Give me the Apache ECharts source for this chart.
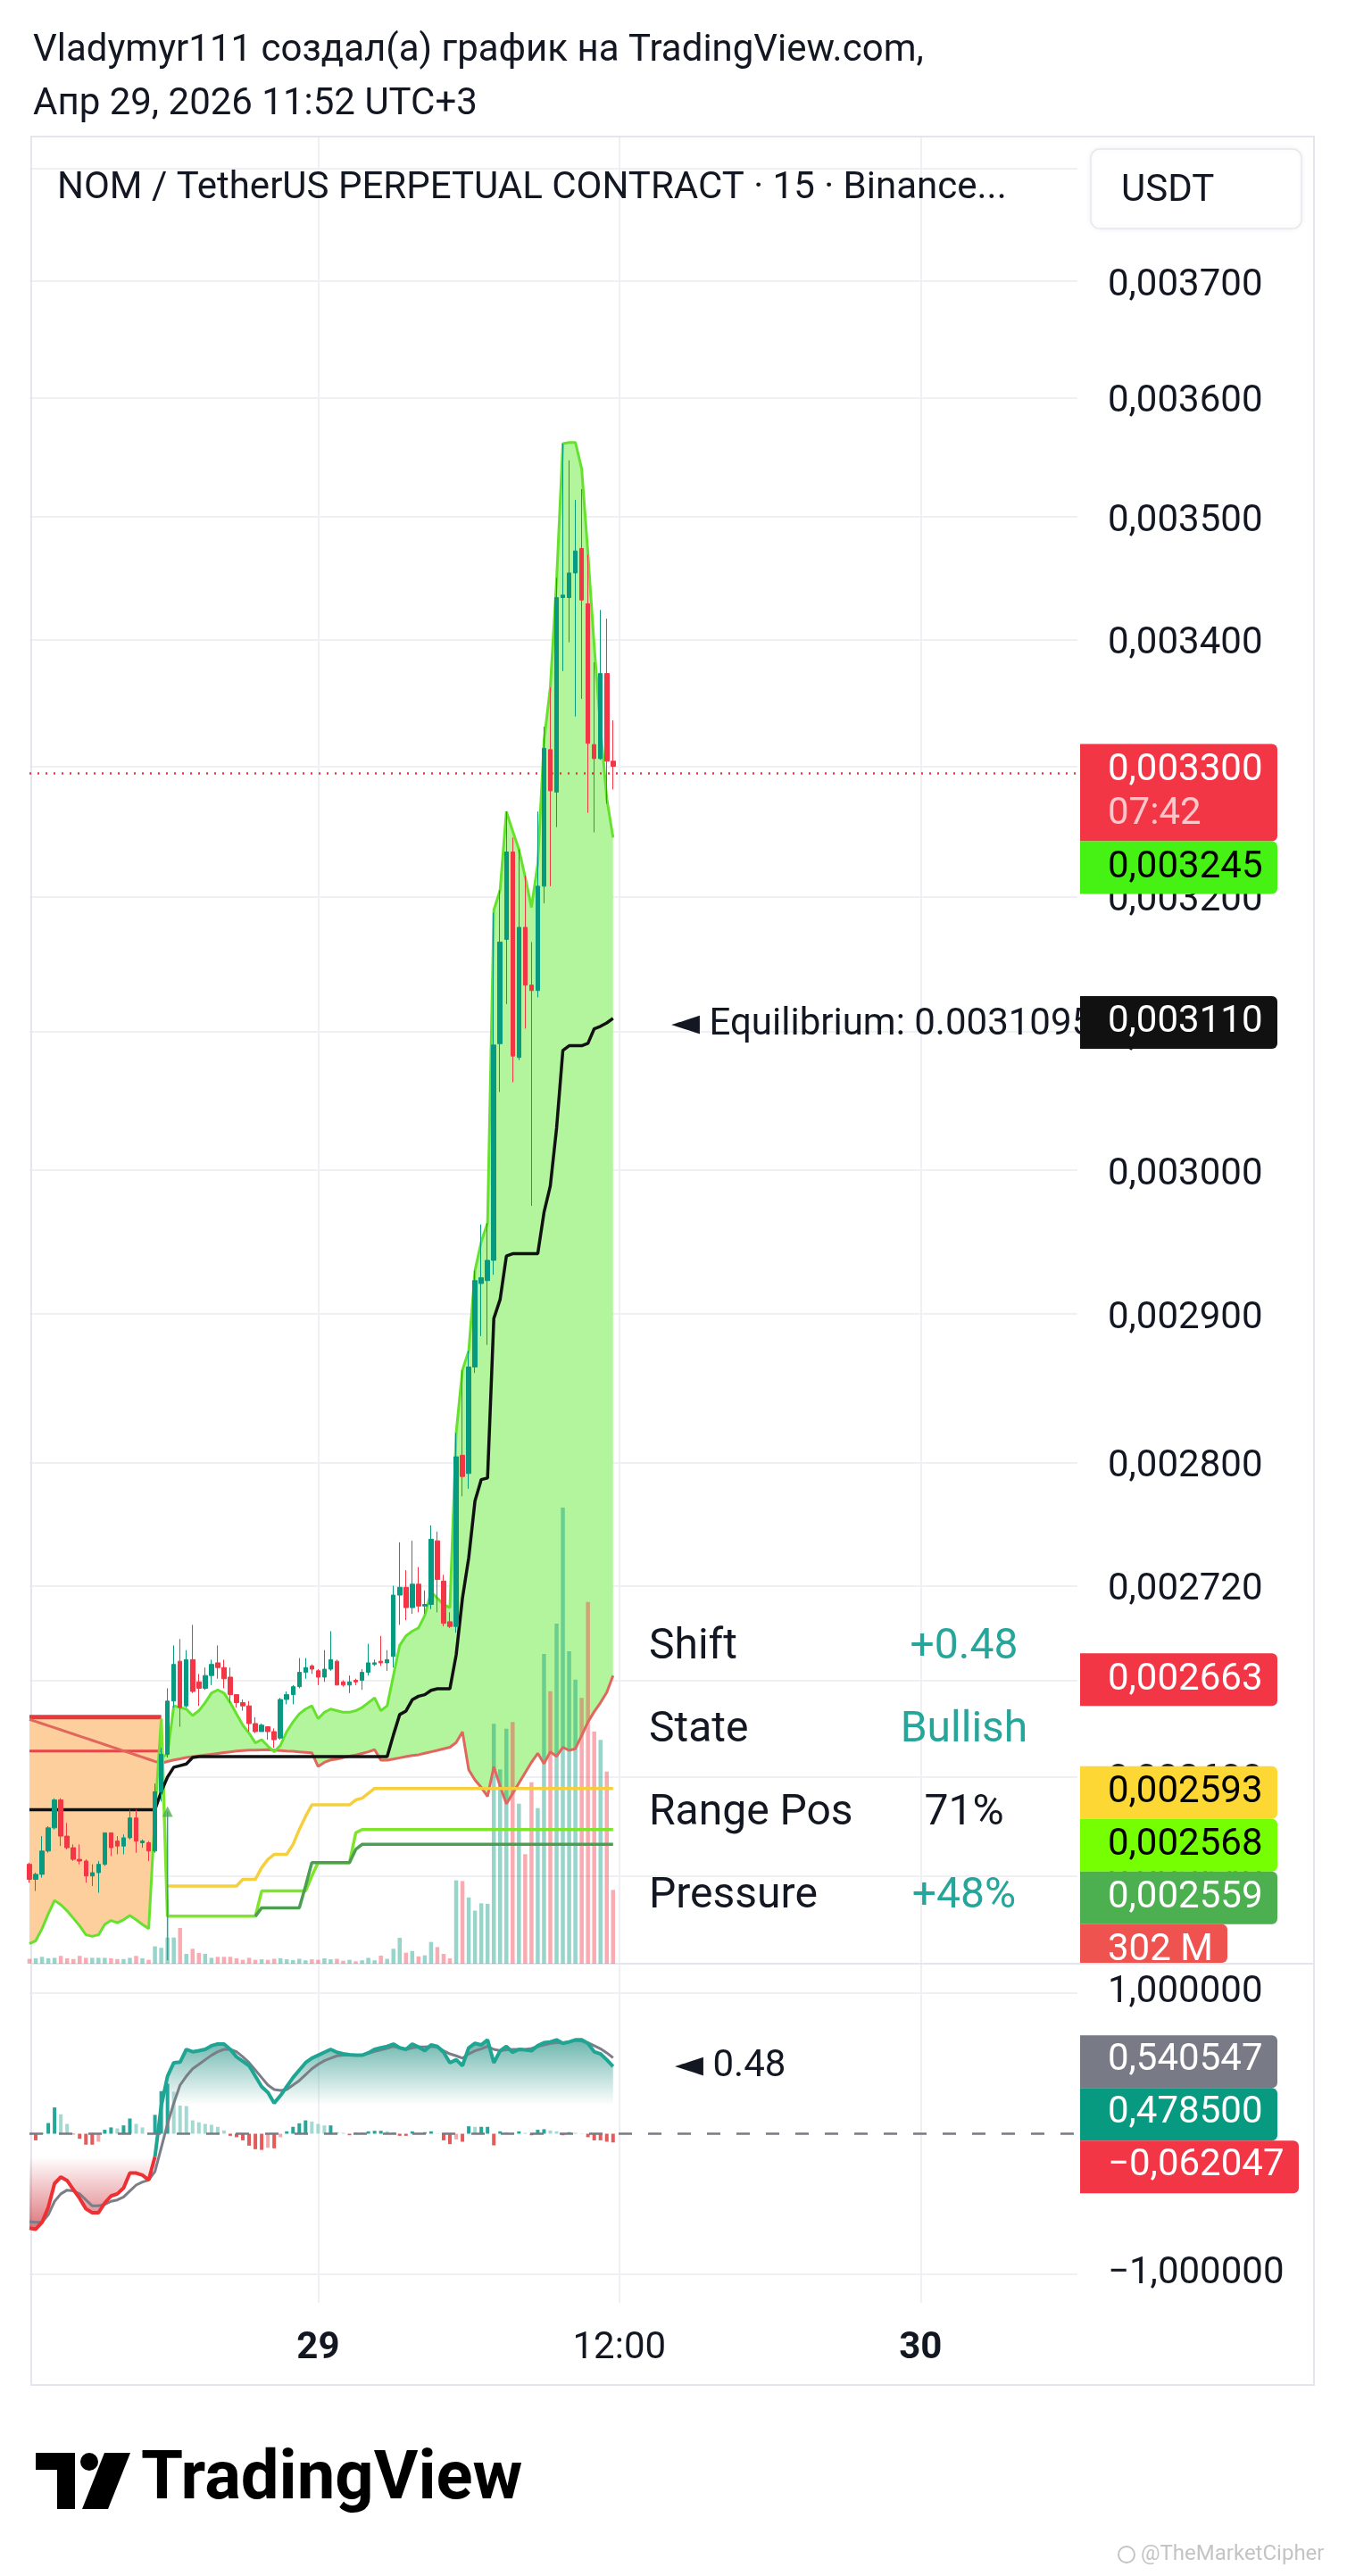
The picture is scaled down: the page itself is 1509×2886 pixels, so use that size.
<!DOCTYPE html>
<html>
<head>
<meta charset="utf-8">
<title>NOM / TetherUS PERPETUAL CONTRACT</title>
<script src="https://cdn.jsdelivr.net/npm/echarts@6.0.0/dist/echarts.min.js"></script>
<style>
html,body{margin:0;padding:0;background:#ffffff;}
#chart{width:1509px;height:2886px;}
</style>
</head>
<body>
<div id="chart"></div>
<script>
// ================= DATA (prices in 1e-6 USDT) =================
// 15-minute bars, index 0 = 28 Apr 12:30 (UTC+3)
const candles = [ // [open, close, low, high]
[2547,2538,2536,2548],[2538,2541,2531,2542],[2541,2555,2539,2564],[2555,2569,2554,2570],[2569,2586,2568,2587],
[2586,2564,2558,2587],[2564,2557,2556,2572],[2557,2550,2549,2559],[2550,2549,2547,2559],[2549,2540,2536,2550],
[2540,2542,2534,2547],[2542,2547,2530,2549],[2547,2566,2546,2566],[2566,2557,2552,2566],[2561,2558,2553,2564],
[2558,2563,2553,2565],[2563,2575,2562,2580],[2575,2561,2554,2580],[2560,2561,2557,2562],[2560,2555,2549,2561],
[2555,2591,2554,2596],[2591,2614,2585,2618],[2614,2647,2612,2655],[2647,2670,2643,2682],[2672,2643,2631,2686],
[2644,2673,2643,2679],[2673,2653,2652,2695],[2659,2655,2644,2664],[2655,2663,2654,2668],[2663,2670,2657,2673],
[2671,2668,2661,2682],[2668,2661,2655,2673],[2662,2651,2646,2668],[2651,2646,2643,2651],[2646,2644,2641,2648],
[2644,2633,2628,2647],[2633,2628,2627,2637],[2628,2632,2628,2633],[2631,2628,2623,2631],[2628,2623,2618,2630],
[2624,2648,2623,2649],[2648,2651,2645,2653],[2651,2656,2645,2657],[2656,2665,2655,2674],[2665,2668,2661,2674],
[2669,2667,2664,2670],[2666,2662,2657,2667],[2662,2667,2659,2679],[2667,2673,2666,2691],[2672,2657,2657,2673],
[2659,2657,2656,2660],[2657,2659,2652,2663],[2660,2659,2657,2661],[2660,2665,2654,2667],[2665,2671,2663,2683],
[2670,2671,2669,2673],[2672,2671,2669,2688],[2671,2673,2666,2679],[2675,2714,2668,2720],[2714,2719,2695,2748],
[2719,2706,2698,2730],[2706,2721,2702,2749],[2721,2707,2703,2732],[2707,2708,2702,2717],[2708,2750,2705,2759],
[2749,2724,2703,2755],[2723,2696,2694,2727],[2697,2694,2693,2703],[2694,2804,2690,2820],[2805,2791,2778,2862],
[2793,2864,2783,2875],[2864,2923,2860,2930],[2921,2925,2885,2962],[2923,2937,2879,2963],[2937,3090,2927,3188],
[3091,3166,3056,3205],[3168,3234,3120,3265],[3234,3082,3063,3245],[3081,3177,3079,3236],[3177,3134,3102,3216],
[3134,3130,2975,3166],[3130,3208,3125,3265],[3208,3314,3195,3331],[3313,3281,3208,3362],[3280,3434,3253,3450],
[3434,3436,3375,3561],[3434,3454,3398,3547],[3454,3472,3339,3514],[3474,3432,3353,3523],[3429,3318,3264,3469],
[3317,3306,3249,3382],[3306,3373,3305,3424],[3373,3304,3271,3417],[3304,3300,3282,3336]
];
const volumeM = [20,22,28,22,24,32,22,19,32,24,24,24,24,22,19,19,24,32,22,16,71,65,107,107,146,40,61,44,40,24,28,28,28,22,16,24,16,
18,16,20,22,18,15,20,14,18,16,22,18,20,12,16,10,14,24,14,33,20,61,106,45,52,30,34,
89,68,40,22,341,338,271,217,247,245,981,795,961,989,655,448,742,636,1267,1115,1391,1866,1278,1162,1087,1480,949,916,786,302];

// range / trail lines of the overlay indicator
const bearRangeHigh = 2637, bearRangeMid = 2616, bearRangeEnd = 21;
const limeBear = [2499.7,2501.5,2508.6,2517.4,2525.4,2522.8,2519.2,2514.8,2510.3,2505,2504.1,2505,2511.2,2513.5,2512.1,2513.9,2516.5,2513.9,2511.2,2508.6,2577,2636];
const limeBullStart = 21;
const limeBull = [2612,2614,2644,2643,2642,2638,2641,2646,2652,2654,2652,2646,2639,2632,2627,2621,2623,2619,2615.5,2619.5,2628,2634,2639,2642,2644,2636,2640,2642,2641,2640,2640,2641,2643,2646,2649,2641,2644,2663,2682,2688,2691,2693,2701,2716,2712,2708,2706,2820,2862,2875,2930,2950,2963,3190,3205,3265,3250,3236,3215,3192,3225,3320,3362,3448,3561,3562,3562,3540,3470,3395,3330,3275,3245];
const salmonLine = [2635.6,2634.3,2633,2631.7,2630.4,2629.1,2627.8,2626.5,2625.2,2623.9,2622.6,2621.3,2620,2618.7,2617.4,2616.1,2614.8,2613.5,2612.2,2610.9,2609.6,
2608.5,2609.5,2610.5,2611.2,2612,2612.5,2613,2613.5,2614,2614.5,2615,2615.5,2616,2616.3,2616.5,2616.5,2616.7,2616.8,2616.6,2616.3,2616,2615.8,2615.5,2615.2,2614.9,2606.5,2609,2610.5,2611,2612,2612.8,2613.5,2614.5,2615.5,2616.8,2610.3,2610.3,2611,2611.8,2612.5,2613.2,2613.7,2614.6,2615.5,2616.4,2617.4,2618.3,2621.2,2627.9,2604.5,2598.1,2593.6,2588.1,2606.3,2594.5,2583.6,2589.9,2596.3,2602.7,2609.1,2614.6,2608.2,2615.5,2612.7,2618.3,2616.4,2617.4,2625.6,2633.9,2640.4,2646.0,2652.5,2663];
const equilibriumPts = [[0,2580],[20,2580],[21,2591],[22,2600],[23,2606],[24,2607],[25,2608],[26,2612],[27,2612.5],[57,2612.5],[58,2626],[59,2638.6],[60,2640.8],[61,2647.8],[62,2650],[63,2651],[64,2653.7],[65,2654.7],[67,2654.7],[68,2676],[69,2712],[70,2738],[71,2775],[72,2789],[73,2790],[74,2897],[75,2910],[76,2940],[77,2941.6],[81,2941.6],[82,2970.5],[83,2989],[84,3030],[85,3086],[86,3089.5],[88,3089.5],[89,3091.3],[90,3101.9],[91,3103.7],[92,3106.2],[93,3109.5]];
const yellowPts = [[22,2534],[33,2534],[34,2538],[36,2538],[37,2545],[38,2550],[39,2553],[41,2553],[42,2559],[43,2568],[44,2576],[45,2583],[51,2583],[52,2586],[53,2587],[54,2590],[55,2593],[93,2593]];
const lime2Pts = [[21,2636],[22,2516],[36,2516],[37,2531],[44,2531],[45,2540],[46,2548],[51,2548],[52,2566],[53,2568],[93,2568]];
const darkGreenPts = [[36,2516],[37,2521],[43,2521],[44,2534],[45,2548],[51,2548],[52,2556],[53,2559],[93,2559]];
const signalMark = [22, 2579];
const signalStem = [[22,2579],[22,2490]];

// oscillator pane
const oscSplit = 20;
const oscValues = [-0.672,-0.679,-0.630,-0.524,-0.354,-0.308,-0.333,-0.397,-0.460,-0.534,-0.562,-0.562,-0.492,-0.443,-0.428,-0.386,-0.280,-0.280,-0.295,-0.329,-0.163,0.197,0.409,0.505,0.509,0.600,0.583,0.590,0.600,0.626,0.638,0.638,0.600,0.547,0.515,0.484,0.409,0.335,0.293,0.218,0.271,0.335,0.399,0.452,0.505,0.537,0.558,0.579,
0.600,0.579,0.568,0.562,0.558,0.558,0.575,0.600,0.611,0.621,0.638,0.611,0.600,0.638,0.617,0.590,0.632,0.621,0.579,0.505,0.526,0.484,0.611,0.643,0.632,0.668,0.505,0.590,0.621,0.579,0.600,0.596,0.590,0.626,0.647,0.653,0.668,0.643,0.653,0.668,0.668,0.643,0.583,0.568,0.526,0.4785];
const signalValues = [-0.625,-0.630,-0.630,-0.577,-0.481,-0.428,-0.401,-0.407,-0.428,-0.471,-0.513,-0.513,-0.503,-0.481,-0.471,-0.450,-0.407,-0.365,-0.344,-0.329,-0.269,-0.100,0.070,0.218,0.346,0.409,0.462,0.494,0.526,0.558,0.583,0.600,0.600,0.583,0.547,0.505,0.452,0.399,0.346,0.314,0.308,0.314,0.346,0.378,0.420,0.462,0.494,0.520,
0.537,0.554,0.558,0.558,0.558,0.558,0.573,0.585,0.596,0.607,0.621,0.611,0.600,0.611,0.617,0.617,0.621,0.617,0.590,0.568,0.554,0.537,0.568,0.590,0.604,0.621,0.600,0.590,0.596,0.600,0.600,0.600,0.607,0.621,0.632,0.643,0.647,0.647,0.653,0.664,0.660,0.647,0.626,0.604,0.575,0.540547];
const histValues = [0,-0.047,0.004,0.076,0.187,0.138,0.070,-0.005,-0.036,-0.078,-0.078,-0.057,0.028,0.045,0.038,0.059,0.108,0.070,0.045,0.005,0.134,0.303,0.356,0.299,0.201,0.197,0.095,0.081,0.070,0.064,0.049,0.023,-0.015,-0.025,-0.047,-0.085,-0.110,-0.115,-0.100,-0.104,-0.025,0.017,0.049,0.074,0.095,0.087,0.070,0.059,0.059,
0.011,0.006,-0.011,0.006,0.006,0.017,0.021,0.021,0.017,0.011,-0.015,-0.015,0.017,0.006,0.011,0.017,0.002,-0.047,-0.074,-0.040,-0.057,0.053,0.049,0.049,0.049,-0.083,0.017,0.011,0.006,0.017,0.006,-0.011,0.028,0.032,0.023,0.017,-0.011,0.011,0.006,0.002,-0.025,-0.047,-0.047,-0.057,-0.062047];

// axes
const priceTicks = [3800,3700,3600,3500,3400,3300,3200,3100,3000,2900,2800,2720,2660,2600,2540];
const oscTicks = [1,-1];
const timeTickLabels = {46:'29', 94:'12:00', 142:'30'};
const boldTicks = [46,142];
const table = [['Shift','+0.48','#26a69a'],['State','Bullish','#26a69a'],['Range Pos','71%','#131722'],['Pressure','+48%','#26a69a']];
const lastPrice = 3300, countdown = '07:42';

// ================= CHART =================
const FONT = 'Roboto, "Noto Sans", "DejaVu Sans", sans-serif';
const TXT = '#131722', GRID = '#eef0f3';
const UP = '#089981', DN = '#f23645';
const FS = 42;
const L = Math.log;
const N = 168;
const categories = [];
for (let k = 0; k < N; k++) {
  const m = 12 * 60 + 30 + 15 * k;
  const d = 28 + Math.floor(m / 1440), mm = m % 1440;
  categories.push(d + ' ' + String(Math.floor(mm / 60)).padStart(2, '0') + ':' + String(mm % 60).padStart(2, '0'));
}
function pad(start, vals, fn) {
  const a = new Array(N).fill('-');
  vals.forEach((v, j) => { a[start + j] = fn ? fn(v, start + j) : v; });
  return a;
}
const fmtPrice = p => '0,' + String(Math.round(p)).padStart(6, '0');
const fmtOsc = v => (v < 0 ? '\u2212' : '') + Math.abs(v).toFixed(6).replace('.', ',');
const lineS = (name, data, color, width, z, extra) => Object.assign({
  name, type: 'line', xAxisIndex: 0, yAxisIndex: 0, data, symbol: 'none', silent: true, z,
  lineStyle: { color, width }, connectNulls: false
}, extra || {});

const chart = echarts.init(document.getElementById('chart'), null, { renderer: 'canvas' });

const splitIdx = (i) => i in timeTickLabels;
const option = {
  animation: false,
  backgroundColor: '#ffffff',
  textStyle: { fontFamily: FONT },
  grid: [
    { left: 33, top: 153, width: 1174, height: 2047 },
    { left: 33, top: 2200, width: 1174, height: 380 }
  ],
  xAxis: [
    { type: 'category', gridIndex: 0, data: categories, boundaryGap: false,
      axisLine: { show: false }, axisTick: { show: false }, axisLabel: { show: false },
      splitLine: { show: true, interval: splitIdx, lineStyle: { color: GRID, width: 2 } } },
    { type: 'category', gridIndex: 1, data: categories, boundaryGap: false,
      axisLine: { show: false }, axisTick: { show: false }, axisLabel: { show: false },
      splitLine: { show: true, interval: splitIdx, lineStyle: { color: GRID, width: 2 } } }
  ],
  yAxis: [
    { type: 'value', gridIndex: 0, position: 'right', min: L(2488), max: L(3828.5),
      axisLine: { show: false }, axisTick: { show: false, customValues: priceTicks.map(L) },
      axisLabel: { customValues: priceTicks.map(L), formatter: v => fmtPrice(Math.exp(v)),
        color: TXT, fontSize: FS, fontFamily: FONT, margin: 34, align: 'left', verticalAlign: 'top', lineHeight: 10 },
      splitLine: { show: true, lineStyle: { color: GRID, width: 2 } } },
    { type: 'value', gridIndex: 0, min: 0, max: 7475, show: false },
    { type: 'value', gridIndex: 1, position: 'right', min: -1.2032, max: 1.2095,
      axisLine: { show: false }, axisTick: { show: false, customValues: oscTicks },
      axisLabel: { customValues: oscTicks, formatter: v => fmtOsc(v),
        color: TXT, fontSize: FS, fontFamily: FONT, margin: 34, align: 'left' },
      splitLine: { show: true, lineStyle: { color: GRID, width: 2 } } }
  ],
  series: [
    // bear range fill (orange)
    lineS('bearBase', pad(0, limeBear, v => L(v)), 'transparent', 0, 1,
      { stack: 'bear', stackStrategy: 'all', lineStyle: { opacity: 0 } }),
    lineS('bearBand', pad(0, limeBear, v => L(bearRangeHigh) - L(v)), 'transparent', 0, 1,
      { stack: 'bear', stackStrategy: 'all', lineStyle: { opacity: 0 }, areaStyle: { color: '#fdcf9c', opacity: 1 } }),
    // bull zone fill (light green)
    lineS('bullBase', pad(limeBullStart, salmonLine.slice(limeBullStart), v => L(v)), 'transparent', 0, 1,
      { stack: 'bull', stackStrategy: 'all', lineStyle: { opacity: 0 } }),
    lineS('bullBand', pad(limeBullStart, limeBull, (v, k) => Math.max(0, L(v) - L(salmonLine[k]))), 'transparent', 0, 1,
      { stack: 'bull', stackStrategy: 'all', lineStyle: { opacity: 0 }, areaStyle: { color: '#b3f59d', opacity: 1 } }),
    // volume
    { name: 'Volume', type: 'bar', xAxisIndex: 0, yAxisIndex: 1, barWidth: 4.5, silent: true, z: 2,
      data: volumeM.map((v, k) => ({ value: v, itemStyle: { color: candles[k][1] >= candles[k][0] ? 'rgba(8,153,129,0.42)' : 'rgba(242,54,69,0.42)' } })) },
    // lines
    lineS('rangeHigh', [[0, L(bearRangeHigh)], [bearRangeEnd, L(bearRangeHigh)]], '#e53940', 5, 3),
    lineS('rangeMid', [[0, L(bearRangeMid)], [bearRangeEnd, L(bearRangeMid)]], '#e8454a', 3, 3),
    lineS('lower', salmonLine.map(L), '#e0675d', 3, 3),
    lineS('trailBear', pad(0, limeBear, v => L(v)), '#66e22e', 3, 3),
    lineS('trailBull', pad(limeBullStart, limeBull, v => L(v)), '#66e22e', 3, 3),
    lineS('yellow', yellowPts.map(p => [p[0], L(p[1])]), '#f6cf3d', 3.5, 3),
    lineS('lime2', lime2Pts.map(p => [p[0], L(p[1])]), '#7ee52a', 3.5, 3),
    lineS('darkgreen', darkGreenPts.map(p => [p[0], L(p[1])]), '#4c9f50', 3.5, 3),
    lineS('stem', signalStem.map(p => [p[0], L(p[1])]), '#26a69a', 1.5, 3),
    lineS('Equilibrium', equilibriumPts.map(p => [p[0], L(p[1])]), '#111111', 3.5, 4),
    { name: 'signal', type: 'scatter', xAxisIndex: 0, yAxisIndex: 0, symbol: 'triangle', symbolSize: 12, z: 5, silent: true,
      itemStyle: { color: '#4caf50' }, data: [[signalMark[0], L(signalMark[1])]] },
    { name: 'NOM', type: 'candlestick', xAxisIndex: 0, yAxisIndex: 0, barWidth: 5, z: 6, silent: true,
      data: candles.map(c => c.map(L)),
      itemStyle: { color: UP, color0: DN, borderColor: UP, borderColor0: DN, borderWidth: 1 },
      markLine: { silent: true, symbol: 'none', label: { show: false },
        lineStyle: { color: DN, type: [2, 7], width: 2.5 }, data: [{ yAxis: L(lastPrice) }] } },
    // oscillator pane
    { name: 'bullFill', type: 'line', xAxisIndex: 1, yAxisIndex: 2, symbol: 'none', silent: true, z: 1,
      data: pad(oscSplit, oscValues.slice(oscSplit)), lineStyle: { opacity: 0 },
      areaStyle: { color: { type: 'linear', x: 0, y: 0, x2: 0, y2: 1, colorStops: [
        { offset: 0, color: 'rgba(22,140,126,0.9)' }, { offset: 0.56, color: 'rgba(22,140,126,0)' }, { offset: 1, color: 'rgba(22,140,126,0)' }] } } },
    { name: 'bearFill', type: 'line', xAxisIndex: 1, yAxisIndex: 2, symbol: 'none', silent: true, z: 1,
      data: pad(0, oscValues.slice(0, oscSplit + 1)), lineStyle: { opacity: 0 },
      areaStyle: { color: { type: 'linear', x: 0, y: 0, x2: 0, y2: 1, colorStops: [
        { offset: 0, color: 'rgba(205,40,50,0)' }, { offset: 0.24, color: 'rgba(205,40,50,0)' }, { offset: 1, color: 'rgba(200,35,45,0.9)' }] } } },
    { name: 'hist', type: 'bar', xAxisIndex: 1, yAxisIndex: 2, barWidth: 4, silent: true, z: 2,
      data: histValues.map((v, k) => {
        const prev = k > 0 ? histValues[k - 1] : v;
        let c;
        if (v >= 0) c = v >= prev ? '#26a69a' : '#a3d9d2';
        else c = v <= prev ? '#e35b5b' : '#f2a9a9';
        return { value: v, itemStyle: { color: c } };
      }),
      markLine: { silent: true, symbol: 'none', label: { show: false },
        lineStyle: { color: '#787b86', type: [15, 18], width: 2.5 }, data: [{ yAxis: 0 }] } },
    { name: 'signalLine', type: 'line', xAxisIndex: 1, yAxisIndex: 2, symbol: 'none', silent: true, z: 3,
      data: signalValues, lineStyle: { color: '#7b7e86', width: 3 } },
    { name: 'oscBear', type: 'line', xAxisIndex: 1, yAxisIndex: 2, symbol: 'none', silent: true, z: 4,
      data: pad(0, oscValues.slice(0, oscSplit + 1)), lineStyle: { color: '#ee2f33', width: 4 } },
    { name: 'oscBull', type: 'line', xAxisIndex: 1, yAxisIndex: 2, symbol: 'none', silent: true, z: 4,
      data: pad(oscSplit, oscValues.slice(oscSplit)), lineStyle: { color: '#1ea593', width: 4 } }
  ]
};
chart.setOption(option);

// ================= ANNOTATIONS =================
function txt(x, y, s, o) {
  o = o || {};
  return { type: 'text', x, y: y + (o.dy === undefined ? 4 : o.dy), z: o.z || 50, silent: true,
    style: { text: s, font: (o.weight || 'normal') + ' ' + (o.size || FS) + 'px ' + FONT,
      fill: o.color || TXT, textAlign: o.align || 'left', textVerticalAlign: 'middle' } };
}
const g = [];
// frame
g.push({ type: 'rect', z: 0, silent: true, shape: { x: 35, y: 153, width: 1437, height: 2519 }, style: { fill: 'none', stroke: '#e3e6ec', lineWidth: 2 } });
g.push({ type: 'line', z: 0, silent: true, shape: { x1: 35, y1: 2200, x2: 1472, y2: 2200 }, style: { stroke: '#e3e6ec', lineWidth: 2 } });
// titles
g.push(txt(37, 53, 'Vladymyr111 создал(а) график на TradingView.com,'));
g.push(txt(37, 113, 'Апр 29, 2026 11:52 UTC+3'));
g.push(txt(64, 207, 'NOM / TetherUS PERPETUAL CONTRACT · 15 · Binance...'));
// USDT box
g.push({ type: 'rect', z: 60, silent: true, shape: { x: 1222, y: 167, width: 236, height: 89, r: 10 },
  style: { fill: '#ffffff', stroke: '#e6e8ee', lineWidth: 1.5, shadowBlur: 6, shadowColor: 'rgba(0,0,0,0.06)' } });
g.push(txt(1256, 210, 'USDT', { z: 61 }));
// time scale labels
Object.keys(timeTickLabels).forEach(key => {
  const idx = +key;
  const x = chart.convertToPixel({ xAxisIndex: 1 }, idx);
  g.push(txt(x, 2627, timeTickLabels[idx], { align: 'center', weight: boldTicks.includes(idx) ? 'bold' : 'normal' }));
});
// table
const rowsY = [1842, 1935, 2028, 2121];
table.forEach((r, i) => {
  g.push(txt(727, rowsY[i], r[0], { size: 48 }));
  g.push(txt(1080, rowsY[i], r[1], { size: 48, color: r[2], align: 'center' }));
});
// indicator value labels
const lastK = candles.length - 1;
const xLast = chart.convertToPixel({ xAxisIndex: 0 }, lastK);
const eqLast = equilibriumPts[equilibriumPts.length - 1][1];
g.push(txt(xLast + 65, chart.convertToPixel({ yAxisIndex: 0 }, L(eqLast)) + 4,
  '\u25C4 Equilibrium: ' + (eqLast / 1e6).toFixed(7), { z: 40 }));
const oscLast = oscValues[oscValues.length - 1];
g.push(txt(xLast + 69, chart.convertToPixel({ yAxisIndex: 2 }, oscLast),
  '\u25C4 ' + oscLast.toFixed(2), { z: 40, dy: 0 }));

// price-scale badges
function badges(list, dy) {
  let prev = -Infinity;
  list.forEach(b => {
    const y = chart.convertToPixel(b.finder, b.v);
    const full = b.sub ? 109 : 59;
    const top = Math.max(y - 25, prev);
    prev = top + full;
    const h = b.clip ? Math.min(full, b.clip - top) : full;
    g.push({ type: 'rect', z: 90, silent: true, shape: { x: 1210, y: top, width: b.w || 221, height: h, r: [0, 6, 6, 0] }, style: { fill: b.bg } });
    g.push(txt(1241, top + dy, b.text, { color: b.fg, z: 91, dy: 0 }));
    if (b.sub) g.push(txt(1241, top + dy + 49, b.sub, { color: 'rgba(255,255,255,0.72)', z: 91, dy: 0 }));
  });
}
const P = { yAxisIndex: 0 };
badges([
  { finder: P, v: L(lastPrice), text: fmtPrice(lastPrice), sub: countdown, bg: '#f23645', fg: '#ffffff' },
  { finder: P, v: L(limeBull[limeBull.length - 1]), text: fmtPrice(limeBull[limeBull.length - 1]), bg: '#45f213', fg: '#000000' },
  { finder: P, v: L(eqLast), text: fmtPrice(eqLast), bg: '#111111', fg: '#ffffff' },
  { finder: P, v: L(salmonLine[salmonLine.length - 1]), text: fmtPrice(salmonLine[salmonLine.length - 1]), bg: '#f23645', fg: '#ffffff' },
  { finder: P, v: L(yellowPts[yellowPts.length - 1][1]), text: fmtPrice(yellowPts[yellowPts.length - 1][1]), bg: '#fdd835', fg: '#000000' },
  { finder: P, v: L(lime2Pts[lime2Pts.length - 1][1]), text: fmtPrice(lime2Pts[lime2Pts.length - 1][1]), bg: '#76ff03', fg: '#000000' },
  { finder: P, v: L(darkGreenPts[darkGreenPts.length - 1][1]), text: fmtPrice(darkGreenPts[darkGreenPts.length - 1][1]), bg: '#4caf50', fg: '#ffffff' },
  { finder: { yAxisIndex: 1 }, v: volumeM[volumeM.length - 1], text: volumeM[volumeM.length - 1] + ' M', bg: '#ef5350', fg: '#ffffff', w: 165, clip: 2199 }
], 30);
const O = { yAxisIndex: 2 };
badges([
  { finder: O, v: signalValues[signalValues.length - 1], text: fmtOsc(signalValues[signalValues.length - 1]), bg: '#787b86', fg: '#ffffff' },
  { finder: O, v: oscLast, text: fmtOsc(oscLast), bg: '#089981', fg: '#ffffff' },
  { finder: O, v: histValues[histValues.length - 1], text: fmtOsc(histValues[histValues.length - 1]), bg: '#f23645', fg: '#ffffff', w: 245 }
], 28);

// TradingView logo
g.push({ type: 'rect', z: 10, silent: true, shape: { x: 40, y: 2748, width: 44, height: 19 }, style: { fill: '#000' } });
g.push({ type: 'rect', z: 10, silent: true, shape: { x: 64, y: 2748, width: 20, height: 63 }, style: { fill: '#000' } });
g.push({ type: 'circle', z: 10, silent: true, shape: { cx: 100, cy: 2758, r: 10 }, style: { fill: '#000' } });
g.push({ type: 'polygon', z: 10, silent: true, shape: { points: [[117, 2748], [146, 2748], [121, 2811], [92, 2811]] }, style: { fill: '#000' } });
g.push(txt(158, 2780, 'TradingView', { size: 76, weight: 'bold', color: '#000000', dy: 0 }));
// watermark
g.push({ type: 'circle', z: 10, silent: true, shape: { cx: 1262, cy: 2862, r: 9 }, style: { fill: 'none', stroke: '#c4c4c4', lineWidth: 2 } });
g.push(txt(1278, 2862, '@TheMarketCipher', { size: 24, color: '#c4c4c4', dy: 0 }));

chart.setOption({ graphic: { elements: g } });
</script>
</body>
</html>
